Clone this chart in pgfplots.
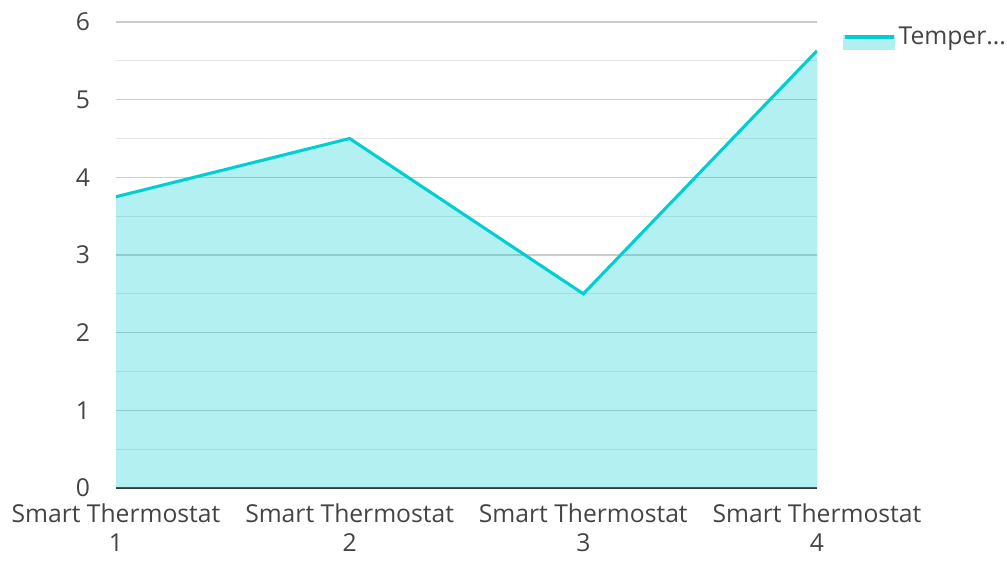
\documentclass[border=0pt]{standalone}
\usepackage{pgfplots}
\pgfplotsset{compat=1.18}
\usepackage{fontspec}
\setmainfont{Open Sans}
\definecolor{turq}{RGB}{0,206,209}
\definecolor{fillc}{RGB}{178,240,239}
\definecolor{txt}{RGB}{68,68,68}
\definecolor{majg}{RGB}{204,204,204}
\definecolor{ming}{RGB}{230,230,230}
\definecolor{axc}{RGB}{51,51,51}
\begin{document}
\begin{tikzpicture}
\begin{axis}[
  name=ax,
  scale only axis,
  width=525.75pt, height=349.5pt,
  xmin=0, xmax=3, ymin=0, ymax=6,
  xtick={0,1,2,3},
  xticklabels={Smart Thermostat\\1, Smart Thermostat\\2, Smart Thermostat\\3, Smart Thermostat\\4},
  ytick={0,1,2,3,4,5,6},
  minor ytick={0.5,1.5,2.5,3.5,4.5,5.5},
  /pgf/number format/assume math mode=true,
  ymajorgrids, yminorgrids,
  major grid style={draw=majg, line width=0.9pt},
  minor grid style={draw=ming, line width=0.9pt},
  axis x line*=bottom,
  axis y line*=left,
  y axis line style={draw=none},
  x axis line style={draw=axc, line width=1.1pt},
  major tick length=0pt, minor tick length=0pt,
  tick style={draw=none},
  tick label style={font=\fontsize{18.5pt}{22pt}\selectfont, text=txt},
  xticklabel style={align=center, inner sep=0.5pt, yshift=-11pt},
  yticklabel style={xshift=-16pt},
  legend style={at={(axis description cs:1.037,0.995)}, anchor=north west, draw=none, fill=none,
    font=\fontsize{18.5pt}{20pt}\selectfont, text=txt, legend cell align=left,
    inner sep=0pt, outer sep=0pt,
    /tikz/every even column/.append style={column sep=3pt}},
  legend image code/.code={
    \fill[fillc] (0pt,-9pt) rectangle (36.75pt,0pt);
    \draw[turq, line width=3pt] (0pt,0pt) -- (36.75pt,0pt);
  },
]
\addplot[draw=none, fill=turq, fill opacity=0.3, forget plot] coordinates {(0,3.75) (1,4.5) (2,2.5) (3,5.63)} \closedcycle;
\addplot[turq, line width=2.3pt, mark=none] coordinates {(0,3.75) (1,4.5) (2,2.5) (3,5.63)};
\addlegendentry{Temper...}
\end{axis}
\path (ax.south west) ++(-87pt,-55pt) coordinate (bba);
\path (ax.south west) ++(668.25pt,366pt) coordinate (bbb);
\pgfresetboundingbox
\path[use as bounding box] (bba) rectangle (bbb);
\end{tikzpicture}
\end{document}
